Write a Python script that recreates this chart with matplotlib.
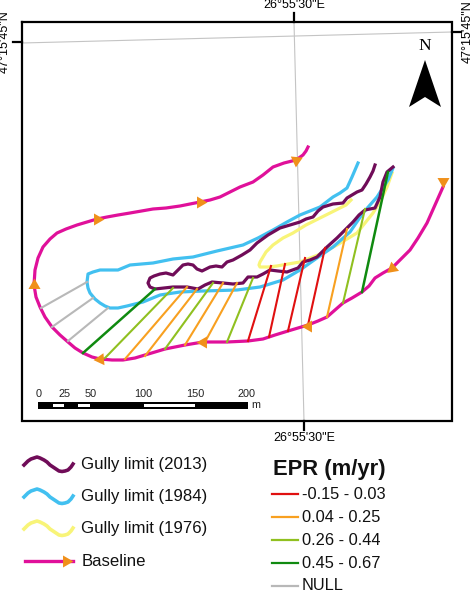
import matplotlib
matplotlib.use('Agg')
import matplotlib.pyplot as plt

plt.rcParams['font.family'] = ['Liberation Sans', 'DejaVu Sans']

baseline_x = [308,306,303,296,284,273,263,253,240,230,220,210,200,180,166,153,130,118,107,97,87,77,66,57,50,43,38,35,34,36,40,45,52,60,68,75,83,92,100,112,123,135,145,155,165,185,203,227,248,263,275,288,308,318,327,335,343,352,362,369,375,383,392,400,410,418,427,435,443]
baseline_y = [147,151,155,160,163,167,175,182,187,192,197,200,202,206,208,209,213,215,217,219,222,225,229,233,239,247,258,270,285,297,307,317,327,335,342,348,353,357,359,360,360,358,355,352,349,345,342,342,341,339,335,331,325,321,317,310,303,298,292,286,278,273,268,260,250,238,223,205,187]

gully_2013_x = [375,373,370,366,362,357,352,347,343,333,323,318,313,306,300,290,280,268,257,250,242,233,227,222,216,210,202,197,193,188,183,178,173,166,160,154,150,148,150,155,164,173,187,198,205,212,223,233,243,248,257,263,270,278,287,298,303,310,317,327,337,347,353,359,365,375,380,383,387,393]
gully_2013_y = [165,171,177,184,190,192,195,198,203,204,207,211,217,219,222,225,228,235,243,250,255,260,262,267,266,267,271,269,265,264,265,270,275,273,274,276,278,283,287,289,288,287,287,289,285,282,283,284,283,277,277,274,270,271,272,268,262,260,257,247,238,228,222,215,210,208,197,182,172,167]

gully_1984_x = [358,355,352,347,340,333,320,310,300,287,273,258,243,230,217,205,193,173,153,130,118,109,100,93,88,87,88,90,95,100,105,110,118,127,143,160,180,203,237,260,283,300,317,333,350,363,377,388,393]
gully_1984_y = [163,170,177,188,193,197,207,211,215,222,230,238,245,248,251,254,257,259,263,265,270,270,270,272,274,282,288,293,299,303,306,308,308,306,302,295,292,291,290,287,280,270,258,247,232,213,197,180,168]

gully_1976_x = [351,346,340,330,320,306,293,283,273,266,260,259,260,268,277,288,300,318,337,357,373,381,387,392]
gully_1976_y = [200,205,208,213,218,225,233,238,245,252,262,265,267,267,266,264,262,255,245,233,213,200,187,173]

# transects: (gully x, gully y, baseline x, baseline y)
null_lines = [(87,282,41,308),(93,298,52,327),(108,308,68,341)]
class_1 = [(271,266,248,341),(285,264,269,337),(305,258,288,331),(325,248,308,325)]
class_2 = [(187,287,125,359),(197,289,145,356),(223,283,185,345),(237,283,205,342),(347,229,327,317)]
class_3 = [(173,288,105,358),(213,283,165,349),(253,278,227,342),(365,209,343,303)]
class_4 = [(155,289,83,353),(388,172,362,292)]

# arrow heads on baseline: x, y, rotation
arrow_x = [97,200,296,443,392,308,203,100,34]
arrow_y = [219,202,160,181,268,326,342,359,285]
arrow_rot = [-90,-90,-65,180,130,90,90,95,0]

scale_labels = ['0','25','50','100','150','200']
scale_label_x = [38.7,64.5,90.7,143,195,247]
scale_white = [(52.7,64),(78.3,90),(144,194.7)]

wave_x = [24,26,28,31,34,37,40,44,47,50,53,56,59,62,65,68,71,73]
wave_y = [465,463,461,459,458,457,458,460,462,465,467,469,471,471.5,471,470,467,464]

gully_names = ['Gully limit (2013)','Gully limit (1984)','Gully limit (1976)']
epr_labels = ['-0.15 - 0.03','0.04 - 0.25','0.26 - 0.44','0.45 - 0.67','NULL']

maroon = '#700c58'
blue = '#42c0f0'
yellow = '#f8f478'
magenta = '#e0109a'
orange_m = '#f0901a'
epr_colors = ['#e01010','#f8a020','#90c020','#108a10','#b8b8b8']

fig = plt.figure(figsize=(4.74, 5.92), dpi=100)
ax = fig.add_axes([0, 0, 1, 1])
ax.set_xlim(0, 474)
ax.set_ylim(592, 0)
ax.axis('off')

# graticule and frame
ax.plot([22,452], [43,32], color='#c4c4c4', lw=0.8, zorder=1)
ax.plot([294,304], [22,421], color='#c4c4c4', lw=0.8, zorder=1)
ax.plot([22,452,452,22,22], [21.7,21.7,421,421,21.7], color='black', lw=1.6, zorder=5, solid_joinstyle='miter')
ax.plot([294,294], [13,22], color='black', lw=1.6)
ax.plot([304,304], [421,430], color='black', lw=1.6)
ax.plot([13,22], [42,42], color='black', lw=1.6)
ax.plot([452,461], [32,32], color='black', lw=1.6)

ax.text(294, 5, '26°55\'30"E', fontsize=9, ha='center', va='center')
ax.text(304, 438, '26°55\'30"E', fontsize=9, ha='center', va='center')
ax.text(5, 42, '47°15\'45"N', fontsize=9, rotation=90, ha='center', va='center')
ax.text(468, 32, '47°15\'45"N', fontsize=9, rotation=90, ha='center', va='center')

# gully limits
ax.plot(gully_1976_x, gully_1976_y, color=yellow, lw=2.3, zorder=2, solid_joinstyle='round')
ax.plot(gully_1984_x, gully_1984_y, color=blue, lw=2.3, zorder=3, solid_joinstyle='round')
ax.plot(gully_2013_x, gully_2013_y, color=maroon, lw=2.3, zorder=4, solid_joinstyle='round')

# transects
for lines, c in zip([class_1,class_2,class_3,class_4,null_lines], epr_colors):
    lw = 1.8 if c == epr_colors[3] else 1.5
    for x0, y0, x1, y1 in lines:
        ax.plot([x0,x1], [y0,y1], color=c, lw=lw, zorder=4.5)

# baseline
ax.plot(baseline_x, baseline_y, color=magenta, lw=2.3, zorder=4, solid_joinstyle='round')
for x, y, r in zip(arrow_x, arrow_y, arrow_rot):
    ax.plot(x, y, marker=(3,0,r), color=orange_m, ms=10, mew=0, zorder=6)

# north arrow
ax.fill([425,441,425,409], [60,107,97,107], color='black', lw=0)
ax.text(425, 46, 'N', fontsize=12.5, family='Liberation Serif', ha='center', va='center')

# scale bar
ax.fill([38,248,248,38], [402,402,409.3,409.3], color='black', lw=0)
for x0, x1 in scale_white:
    ax.fill([x0,x1,x1,x0], [403.7,403.7,407.3,407.3], color='white', lw=0)
for lab, x in zip(scale_labels, scale_label_x):
    ax.text(x, 394, lab, fontsize=7.8, ha='center', va='center', color='#222222')
ax.text(251, 405, 'm', fontsize=7.8, ha='left', va='center', color='#222222')

# left legend
for i, (name, c) in enumerate(zip(gully_names, [maroon,blue,yellow])):
    dy = i * 32
    ax.plot(wave_x, [w + dy for w in wave_y], color=c, lw=2.6, solid_joinstyle='round')
    ax.text(81.5, 465 + dy, name, fontsize=12.1, ha='left', va='center', color='#111111')
ax.plot([25,73], [561,561], color=magenta, lw=2.4)
ax.plot(66, 561, marker=(3,0,-90), color=orange_m, ms=10, mew=0)
ax.text(81.5, 562, 'Baseline', fontsize=12.1, ha='left', va='center', color='#111111')

# EPR legend
ax.text(273, 470, 'EPR (m/yr)', fontsize=15.8, fontweight='bold', ha='left', va='center', color='#111111')
for i, (lab, c) in enumerate(zip(epr_labels, epr_colors)):
    y = 494 + i * 23
    ax.plot([272,298], [y,y], color=c, lw=1.6)
    ax.text(302, y + (0.5 if i < 4 else -1), lab, fontsize=11.8, ha='left', va='center', color='#111111')

fig.savefig('out.png', dpi=100)
